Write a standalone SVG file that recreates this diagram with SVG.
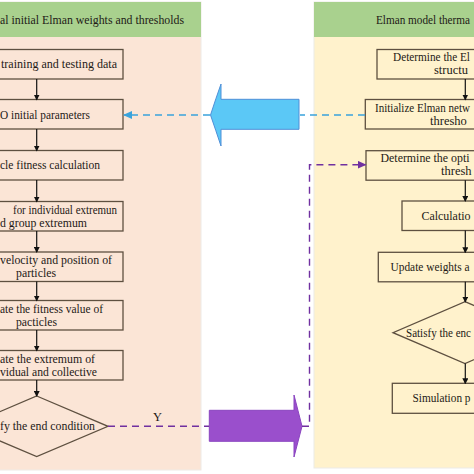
<svg xmlns="http://www.w3.org/2000/svg" width="474" height="474" viewBox="0 0 474 474">
<style>
.t{font-family:"Liberation Serif","DejaVu Serif",serif;font-size:12.5px;fill:#1e1a16}
.box{fill:none;stroke:#5e5040;stroke-width:1.3}
.flow{stroke:#111;stroke-width:1.2;fill:none;marker-end:url(#ah)}
.pd{stroke:#7030a0;stroke-width:1.4;fill:none;stroke-dasharray:7 5}
.bd{stroke:#3aa3dc;stroke-width:1.4;fill:none;stroke-dasharray:7 5}
</style>
<defs>
<marker id="ah" markerWidth="6" markerHeight="6" refX="5" refY="3" orient="auto" markerUnits="userSpaceOnUse"><path d="M0,0 L6,3 L0,6 Z" fill="#111"/></marker>
<marker id="ap" markerWidth="9" markerHeight="8" refX="8" refY="4" orient="auto" markerUnits="userSpaceOnUse"><path d="M0,0 L9,4 L0,8 Z" fill="#7030a0"/></marker>
<marker id="ab" markerWidth="9" markerHeight="8" refX="8" refY="4" orient="auto" markerUnits="userSpaceOnUse"><path d="M0,0 L9,4 L0,8 Z" fill="#3aa3dc"/></marker>
</defs>
<rect width="474" height="474" fill="#ffffff"/>
<g id="panel-left">
<rect x="-10" y="2" width="211" height="468" fill="#fbe5d6" stroke="#eeeae6" stroke-width="1"/>
<rect x="-10" y="2" width="211" height="35" fill="#a9d18e"/>
<text class="t" x="0" y="24" textLength="184" lengthAdjust="spacingAndGlyphs">al initial Elman weights and thresholds</text>
</g>
<g id="panel-right">
<rect x="314" y="2" width="170" height="466" fill="#fff2cc" stroke="#ecebe6" stroke-width="1"/>
<rect x="314" y="2" width="170" height="35" fill="#a9d18e"/>
<text class="t" x="376" y="24" textLength="94" lengthAdjust="spacingAndGlyphs">Elman model therma</text>
</g>
<g id="L1"><rect class="box" x="-50" y="49.5" width="173" height="29.5"/><text class="t" x="1" y="68" textLength="116" lengthAdjust="spacingAndGlyphs">training and testing data</text></g>
<g id="L2"><rect class="box" x="-50" y="99.5" width="173" height="29.5"/><text class="t" x="0" y="119" textLength="90" lengthAdjust="spacingAndGlyphs">O initial parameters</text></g>
<g id="L3"><rect class="box" x="-50" y="150.5" width="173" height="29.5"/><text class="t" x="0" y="169" textLength="100" lengthAdjust="spacingAndGlyphs">cle  fitness calculation</text></g>
<g id="L4"><rect class="box" x="-50" y="201.5" width="173" height="29.5"/><text class="t" x="13" y="214" textLength="104" lengthAdjust="spacingAndGlyphs">for individual extremun</text><text class="t" x="0" y="227" textLength="87" lengthAdjust="spacingAndGlyphs">d group extremum</text></g>
<g id="L5"><rect class="box" x="-50" y="252" width="173" height="29.5"/><text class="t" x="0" y="264" textLength="112" lengthAdjust="spacingAndGlyphs">velocity and position of</text><text class="t" x="16" y="277" textLength="40" lengthAdjust="spacingAndGlyphs">particles</text></g>
<g id="L6"><rect class="box" x="-50" y="300.5" width="173" height="29.5"/><text class="t" x="0" y="313" textLength="103" lengthAdjust="spacingAndGlyphs">ate the fitness value of</text><text class="t" x="16" y="326" textLength="41" lengthAdjust="spacingAndGlyphs">pacticles</text></g>
<g id="L7"><rect class="box" x="-50" y="350.5" width="173" height="29.5"/><text class="t" x="0" y="363" textLength="95" lengthAdjust="spacingAndGlyphs">ate the extremum of</text><text class="t" x="0" y="376" textLength="97" lengthAdjust="spacingAndGlyphs">vidual and collective</text></g>
<g id="LD"><polygon class="box" points="36.7,396 108,426.3 36.7,456.6 -34.6,426.3"/><text class="t" x="0" y="430" textLength="95" lengthAdjust="spacingAndGlyphs">fy the end condition</text></g>
<g id="R1"><rect class="box" x="377" y="49.5" width="120" height="29.5"/><text class="t" x="393" y="61" textLength="77" lengthAdjust="spacingAndGlyphs">Determine the El</text><text class="t" x="434" y="74">structu</text></g>
<g id="R2"><rect class="box" x="365.3" y="99.5" width="130" height="29.5"/><text class="t" x="375" y="112" textLength="95" lengthAdjust="spacingAndGlyphs">Initialize Elman netw</text><text class="t" x="430" y="125">thresho</text></g>
<g id="R3"><rect class="box" x="366" y="150.7" width="130" height="29.5"/><text class="t" x="380.5" y="162" textLength="89" lengthAdjust="spacingAndGlyphs">Determine the opti</text><text class="t" x="441" y="175">thresh</text></g>
<g id="R4"><rect class="box" x="402" y="201" width="100" height="29.5"/><text class="t" x="421.5" y="220" textLength="49" lengthAdjust="spacingAndGlyphs">Calculatio</text></g>
<g id="R5"><rect class="box" x="378.3" y="252.3" width="120" height="29.5"/><text class="t" x="390.5" y="271" textLength="79" lengthAdjust="spacingAndGlyphs">Update weights a</text></g>
<g id="RD"><polygon class="box" points="465,301.7 537,332.7 465,363.5 393,332.7"/><text class="t" x="406" y="337" textLength="65" lengthAdjust="spacingAndGlyphs">Satisfy the enc</text></g>
<g id="R6"><rect class="box" x="392.3" y="383.3" width="120" height="30"/><text class="t" x="412.5" y="402" textLength="58" lengthAdjust="spacingAndGlyphs">Simulation p</text></g>
<g id="arrow-blue"><path d="M210.5,115 Q216,98 221,84 L221,99.3 L299,99.3 L299,129.3 L221,129.3 L221,146 Q216,131 210.5,115 Z" fill="#5bc8f6" stroke="#4f8fd8" stroke-width="1"/></g>
<g id="arrow-purple"><path d="M209.3,410.3 L294,410.3 L294,395 L302,426.3 L294,457 L294,441.3 L209.3,441.3 Z" fill="#9a4fcc" stroke="#8a45c0" stroke-width="1"/></g>
<g id="connectors">
<line class="flow" x1="36.7" y1="79" x2="36.7" y2="99.5"/>
<line class="flow" x1="36.7" y1="129" x2="36.7" y2="150.5"/>
<line class="flow" x1="36.7" y1="180" x2="36.7" y2="201.5"/>
<line class="flow" x1="36.7" y1="231" x2="36.7" y2="252"/>
<line class="flow" x1="36.7" y1="281.5" x2="36.7" y2="300.5"/>
<line class="flow" x1="36.7" y1="330" x2="36.7" y2="350.5"/>
<line class="flow" x1="36.7" y1="380" x2="36.7" y2="396"/>
<line class="flow" x1="465.3" y1="79" x2="465.3" y2="99.5"/>
<line class="flow" x1="465.3" y1="180.2" x2="465.3" y2="201"/>
<line class="flow" x1="465.3" y1="230.5" x2="465.3" y2="252.3"/>
<line class="flow" x1="465.3" y1="281.8" x2="465.3" y2="301.7"/>
<line class="flow" x1="465.3" y1="363.5" x2="465.3" y2="383.3"/>
<line class="bd" x1="365" y1="115" x2="300" y2="115"/>
<line class="bd" x1="210" y1="115" x2="124" y2="115" marker-end="url(#ab)"/>
<line class="pd" x1="108" y1="426.3" x2="209" y2="426.3"/>
<text class="t" x="153" y="421" font-size="11">Y</text>
<polyline class="pd" points="302,426.3 309.5,426.3 309.5,164.7 365.5,164.7" marker-end="url(#ap)" stroke-dasharray="0 1 7 5"/>
</g>
</svg>
